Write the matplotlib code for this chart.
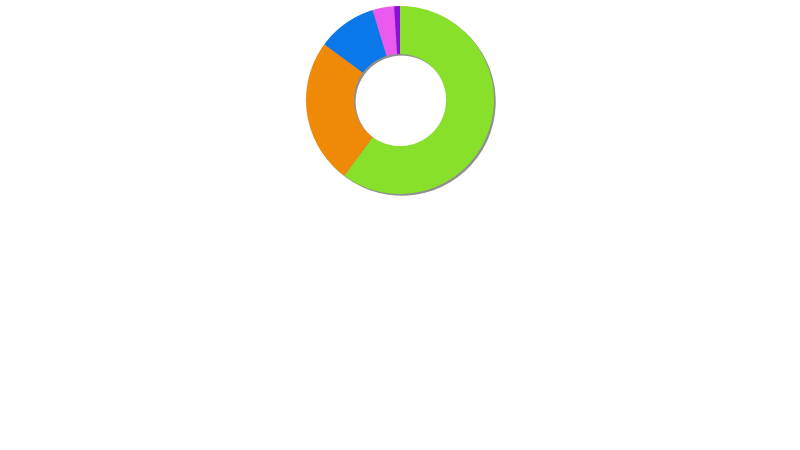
import matplotlib

matplotlib.use("Agg")
import matplotlib.pyplot as plt

# slice shares, clockwise from 12 o'clock
labels = ["A", "B", "C", "D", "E"]
values = [60.1, 25.0, 10.2, 3.7, 1.0]
colors = ["#88e02a", "#ee8a08", "#0a78e8", "#ea5aee", "#8a12d6"]

RING = 0.51
PAD = 1.03

fig = plt.figure(figsize=(8, 4.5), dpi=100)
fig.patch.set_facecolor("white")

# donut centred at (400, 100) px, outer radius ~94 px
r_px = 94 * PAD
ax = fig.add_axes([(400 - r_px) / 800, 1 - (100 + r_px) / 450, 2 * r_px / 800, 2 * r_px / 450])

# soft drop shadow behind the whole ring
ax.pie(
    [sum(values)],
    colors=["#6a6a6a"],
    center=(0.018, -0.018),
    radius=1,
    wedgeprops=dict(width=RING, linewidth=0, alpha=0.75),
)
ax.pie(
    values,
    colors=colors,
    startangle=90,
    counterclock=False,
    radius=1,
    wedgeprops=dict(width=RING, linewidth=0),
)
ax.set_xlim(-PAD, PAD)
ax.set_ylim(-PAD, PAD)
ax.set_aspect("equal")
ax.axis("off")

fig.savefig("out.png", dpi=100)
